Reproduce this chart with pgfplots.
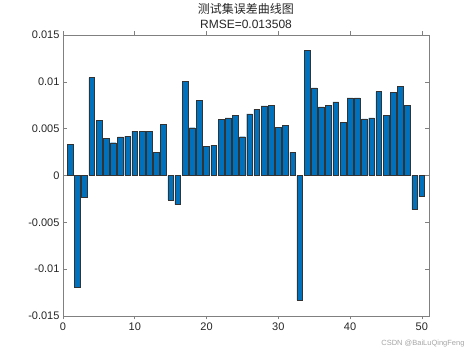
\documentclass[border=0pt]{standalone}
\usepackage{pgfplots}
\pgfplotsset{compat=1.18}
\usepackage{fontspec}
\setmainfont{Liberation Sans}
\newfontfamily\cjk{Noto Sans CJK SC}
\definecolor{mbar}{rgb}{0,0.447,0.741}
\definecolor{axgray}{rgb}{0.5,0.5,0.5}
\definecolor{txtgray}{rgb}{0.15,0.15,0.15}
\begin{document}
\begin{tikzpicture}[x=1pt,y=1pt]
\useasboundingbox (0,0) rectangle (474,355);
\begin{axis}[
  at={(63pt,39pt)}, anchor=south west,
  width=366pt, height=281pt, scale only axis,
  xmin=0, xmax=51, ymin=-0.015, ymax=0.015,
  xtick={0,10,20,30,40,50},
  xticklabels={0,10,20,30,40,50},
  ytick={-0.015,-0.01,-0.005,0,0.005,0.01,0.015},
  yticklabels={-0.015,-0.01,-0.005,0,0.005,0.01,0.015},
  scaled y ticks=false,
  tick align=inside,
  major tick length=3.5pt,
  axis line style={axgray, line width=0.6pt},
  every tick/.style={axgray, line width=0.6pt},
  ticklabel style={font=\fontsize{11}{12}\selectfont, text=txtgray},
  title={{\cjk 测试集误差曲线图}\\RMSE=0.013508},
  title style={align=center, font=\fontsize{12}{14.5}\selectfont, text=txtgray, at={(0.5,1)}, anchor=south, yshift=-3pt},
  ybar, bar width=0.8,
]
\addplot[ybar, bar width=0.8, fill=mbar, draw=black!80, line width=0.4pt] coordinates {
(1,0.00332) (2,-0.01196) (3,-0.00232) (4,0.01046) (5,0.00589)
(6,0.00393) (7,0.00350) (8,0.00411) (9,0.00418) (10,0.00475)
(11,0.00468) (12,0.00468) (13,0.00250) (14,0.00543) (15,-0.00261)
(16,-0.00311) (17,0.01004) (18,0.00510) (19,0.00804) (20,0.00311)
(21,0.00325) (22,0.00600) (23,0.00614) (24,0.00643) (25,0.00414)
(26,0.00657) (27,0.00707) (28,0.00743) (29,0.00750) (30,0.00514)
(31,0.00536) (32,0.00246) (33,-0.01332) (34,0.01339) (35,0.00936)
(36,0.00732) (37,0.00750) (38,0.00786) (39,0.00568) (40,0.00829)
(41,0.00829) (42,0.00604) (43,0.00614) (44,0.00896) (45,0.00643)
(46,0.00886) (47,0.00954) (48,0.00746) (49,-0.00364) (50,-0.00225)
};
\end{axis}
\node[anchor=east, font=\fontsize{7.5}{8}\selectfont, text=black!35] at (468,11) {CSDN @BaiLuQingFeng};
\end{tikzpicture}
\end{document}
